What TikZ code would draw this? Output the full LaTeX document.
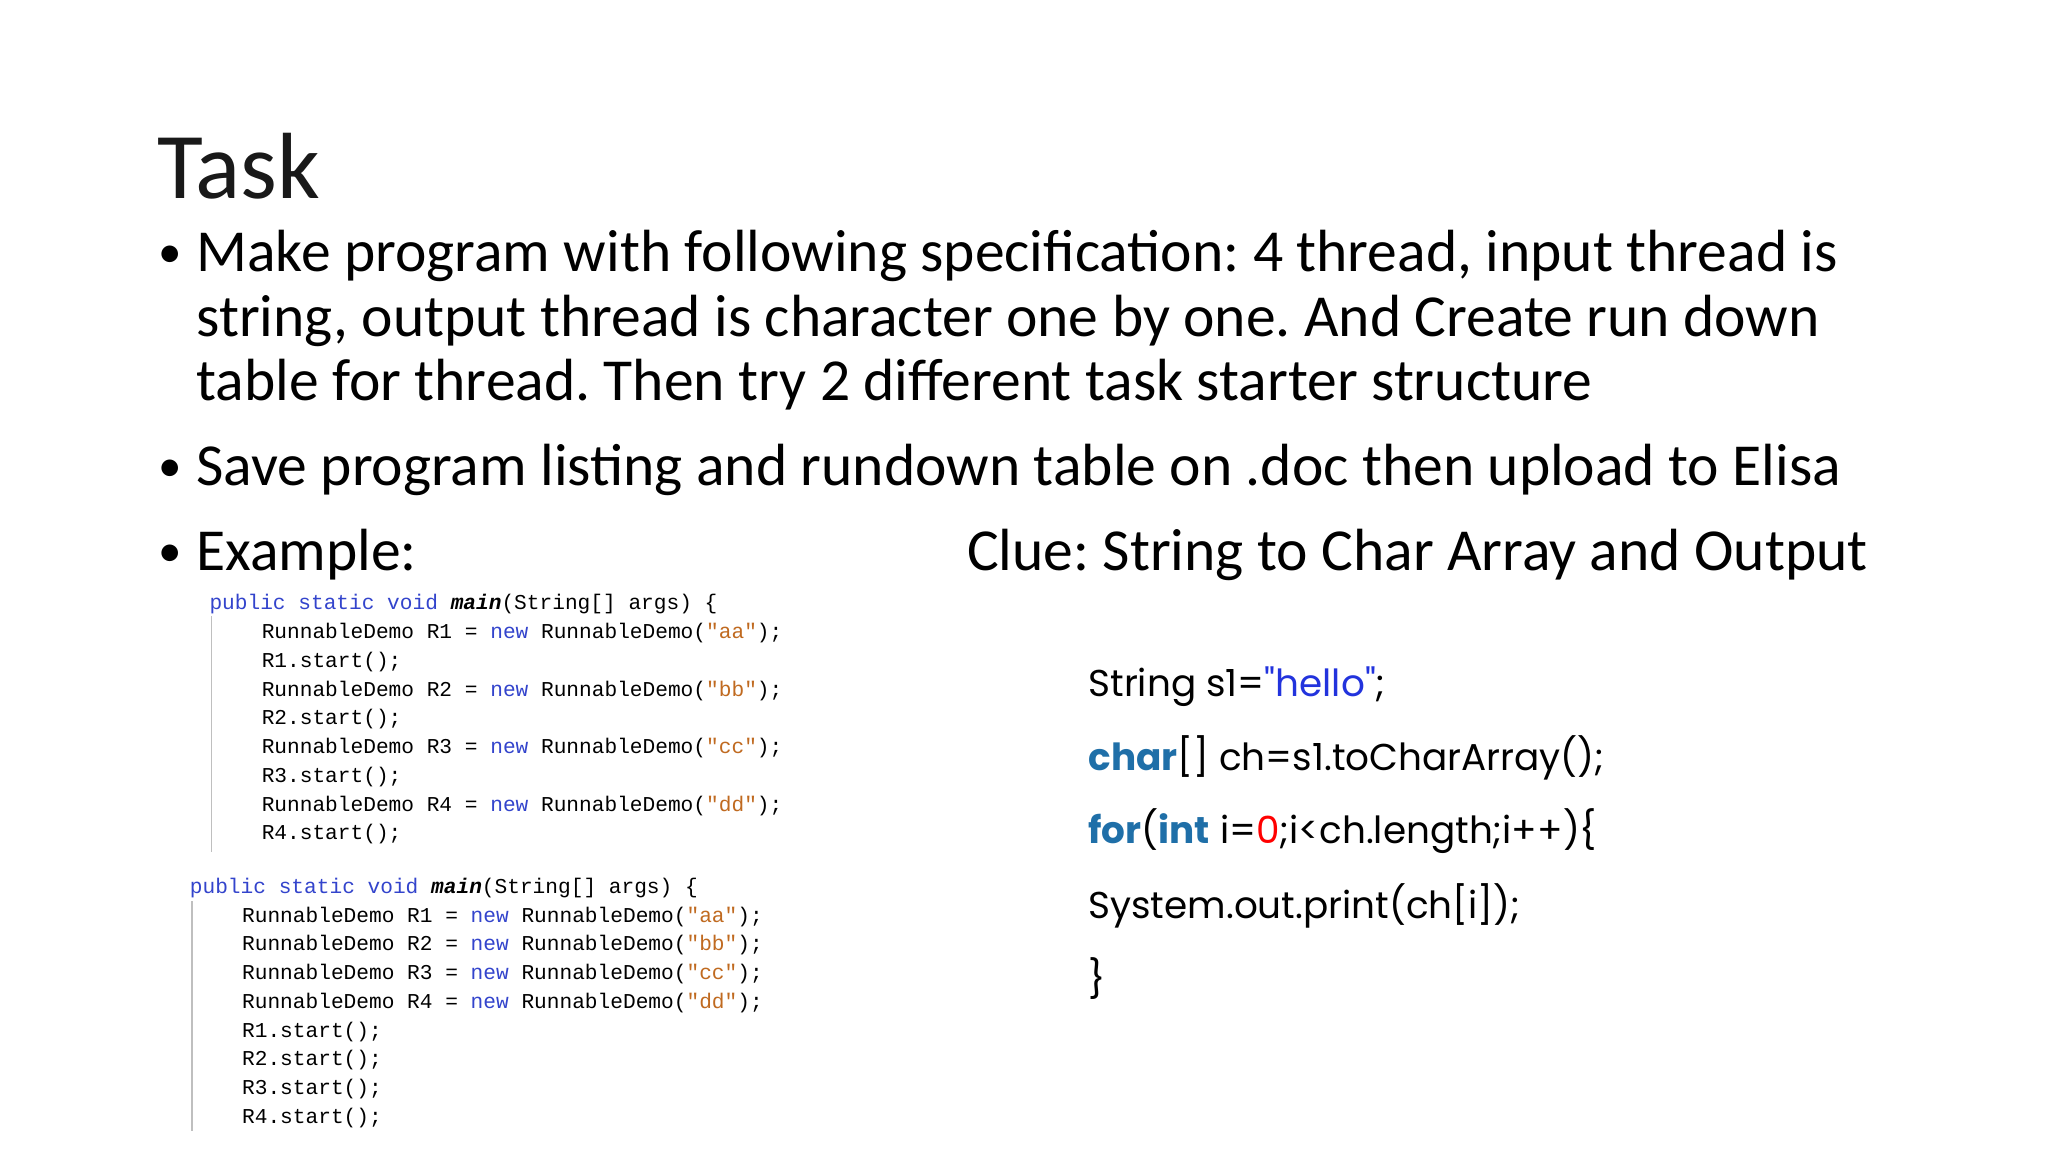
\documentclass[tikz,border=0pt]{standalone}
\usepackage{fontspec}
\setmainfont{Carlito}
\newfontfamily\codefont{Liberation Mono}
\newfontfamily\cluefont{Poppins}
\frenchspacing
\definecolor{kw}{HTML}{3344CC}
\definecolor{st}{HTML}{C06A20}
\definecolor{ck}{HTML}{1F6FA8}
\definecolor{cs}{HTML}{2233DD}
\tikzset{
 tx/.style={anchor=base west,inner sep=0pt,font=\fontsize{22.8}{26}\selectfont},
 cd/.style={anchor=base west,inner sep=0pt,font=\codefont\fontsize{8.1}{9}\selectfont},
 cl/.style={anchor=base west,inner sep=0pt,font=\cluefont\fontsize{14.3}{16}\selectfont},
 bar/.style={draw=black!25,line width=0.5pt}
}
\begin{document}
\begin{tikzpicture}[x=0.5pt,y=-0.5pt]
\useasboundingbox[fill=white] (0,0) rectangle (1568,882);
\node[tx,font=\fontsize{36}{40}\selectfont,text=black!90] (title) at (120,152) {Task};
\foreach \y/\n in {208/b1,372/b2,437/b3}{\node[tx,font=\fontsize{18}{20}\selectfont] (\n) at (121,\y-3) {•};}
\node[tx] (l1) at (150,208) {Make program with following specification: 4 thread, input thread is};
\node[tx] (l2) at (150,258) {string, output thread is character one by one. And Create run down};
\node[tx] (l3) at (150,307) {table for thread. Then try 2 different task starter structure};
\node[tx] (l4) at (150,372) {Save program listing and rundown table on .doc then upload to Elisa};
\node[tx] (l5) at (150,437) {Example:};
\node[tx] (clue) at (740,437) {Clue: String to Char Array and Output};
% code block 1
\draw[bar] (162,472) -- (162,652);
\node[cd] (a0) at (160,467) {{\color{kw}public static void} \textbf{\textit{main}}(String[] args) \{};
\node[cd] (a1) at (200,489) {RunnableDemo R1 = {\color{kw}new} RunnableDemo({\color{st}"aa"});};
\node[cd] (a2) at (200,511) {R1.start();};
\node[cd] (a3) at (200,533) {RunnableDemo R2 = {\color{kw}new} RunnableDemo({\color{st}"bb"});};
\node[cd] (a4) at (200,555) {R2.start();};
\node[cd] (a5) at (200,577) {RunnableDemo R3 = {\color{kw}new} RunnableDemo({\color{st}"cc"});};
\node[cd] (a6) at (200,599) {R3.start();};
\node[cd] (a7) at (200,621) {RunnableDemo R4 = {\color{kw}new} RunnableDemo({\color{st}"dd"});};
\node[cd] (a8) at (200,643) {R4.start();};
% code block 2
\draw[bar] (147,690) -- (147,866);
\node[cd] (c0) at (145,684) {{\color{kw}public static void} \textbf{\textit{main}}(String[] args) \{};
\node[cd] (c1) at (185,706) {RunnableDemo R1 = {\color{kw}new} RunnableDemo({\color{st}"aa"});};
\node[cd] (c2) at (185,728) {RunnableDemo R2 = {\color{kw}new} RunnableDemo({\color{st}"bb"});};
\node[cd] (c3) at (185,750) {RunnableDemo R3 = {\color{kw}new} RunnableDemo({\color{st}"cc"});};
\node[cd] (c4) at (185,772) {RunnableDemo R4 = {\color{kw}new} RunnableDemo({\color{st}"dd"});};
\node[cd] (c5) at (185,794) {R1.start();};
\node[cd] (c6) at (185,816) {R2.start();};
\node[cd] (c7) at (185,838) {R3.start();};
\node[cd] (c8) at (185,860) {R4.start();};
% clue code
\node[cl] (k1) at (833,533) {String s1={\color{cs}"hello"};};
\node[cl] (k2) at (833,590) {{\color{ck}\textbf{char}}[] ch=s1.toCharArray();};
\node[cl] (k3) at (833,646) {{\color{ck}\textbf{for}}({\color{ck}\textbf{int}} i={\color{red}0};i<ch.length;i++)\{};
\node[cl] (k4) at (833,703) {System.out.print(ch[i]);};
\node[cl] (k5) at (833,760) {\}};
\end{tikzpicture}
\end{document}
